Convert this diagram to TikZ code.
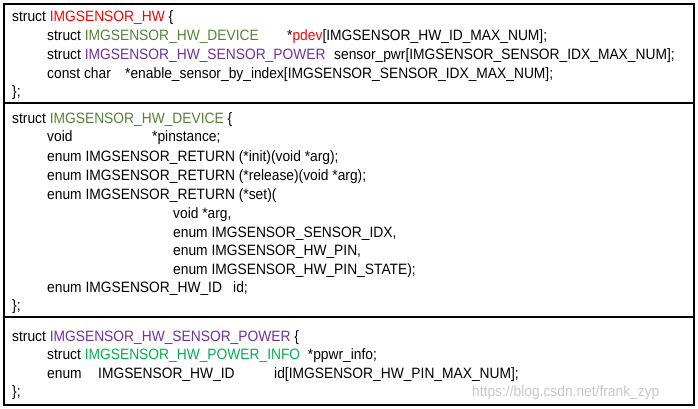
\documentclass[tikz,border=0pt]{standalone}
\usepackage{fontspec}
\setmainfont[FakeStretch=0.92]{Liberation Sans}
\usepackage{xcolor}
\definecolor{cred}{RGB}{255,0,0}
\definecolor{cgreen}{RGB}{84,130,53}
\definecolor{cpurple}{RGB}{112,48,160}
\definecolor{cbright}{RGB}{0,176,80}
\begin{document}
\begin{tikzpicture}[x=1pt,y=-1pt,t/.style={anchor=base west,inner sep=0,font=\fontsize{15}{17}\selectfont}]
\useasboundingbox (0,0) rectangle (698,409);
\draw[line width=1.2] (4,4) rectangle (694,405);
\draw[line width=1.2] (4,103) -- (694,103) (4,317) -- (694,317);
% box1
\node[t] (a1) at (12,22) {struct \textcolor{cred}{IMGSENSOR\_HW} \{};
\node[t] (a2) at (47,41) {struct \textcolor{cgreen}{IMGSENSOR\_HW\_DEVICE}};
\node[t] (a2b) at (287,41) {*\textcolor{cred}{pdev}[IMGSENSOR\_HW\_ID\_MAX\_NUM];};
\node[t] (a3) at (47,60) {struct \textcolor{cpurple}{IMGSENSOR\_HW\_SENSOR\_POWER}};
\node[t] (a3b) at (334,60) {sensor\_pwr[IMGSENSOR\_SENSOR\_IDX\_MAX\_NUM];};
\node[t] (a4) at (47,79) {const char};
\node[t] (a4b) at (125,79) {*enable\_sensor\_by\_index[IMGSENSOR\_SENSOR\_IDX\_MAX\_NUM];};
\node[t] (a5) at (12,97) {\};};
% box2
\node[t] (b1) at (12,124) {struct \textcolor{cgreen}{IMGSENSOR\_HW\_DEVICE} \{};
\node[t] (b2) at (47,142) {void};
\node[t] (b2b) at (152,142) {*pinstance;};
\node[t] (b3) at (47,161) {enum IMGSENSOR\_RETURN (*init)(void *arg);};
\node[t] (b4) at (47,180) {enum IMGSENSOR\_RETURN (*release)(void *arg);};
\node[t] (b5) at (47,199) {enum IMGSENSOR\_RETURN (*set)(};
\node[t] (b6) at (173,218) {void *arg,};
\node[t] (b7) at (173,237) {enum IMGSENSOR\_SENSOR\_IDX,};
\node[t] (b8) at (173,255) {enum IMGSENSOR\_HW\_PIN,};
\node[t] (b9) at (173,274) {enum IMGSENSOR\_HW\_PIN\_STATE);};
\node[t] (b10) at (47,292) {enum IMGSENSOR\_HW\_ID};
\node[t] (b10b) at (233,292) {id;};
\node[t] (b11) at (12,310) {\};};
% box3
\node[t] (c1) at (12,341) {struct \textcolor{cpurple}{IMGSENSOR\_HW\_SENSOR\_POWER} \{};
\node[t] (c2) at (47,359) {struct \textcolor{cbright}{IMGSENSOR\_HW\_POWER\_INFO}\ \ *ppwr\_info;};
\node[t] (c3) at (47,378) {enum};
\node[t] (c3a) at (98,378) {IMGSENSOR\_HW\_ID};
\node[t] (c3b) at (274,378) {id[IMGSENSOR\_HW\_PIN\_MAX\_NUM];};
\node[t] (c4) at (12,396) {\};};
\node[t,text=black!22] (w) at (472,396) {https://blog.csdn.net/frank\_zyp};
\end{tikzpicture}
\end{document}
